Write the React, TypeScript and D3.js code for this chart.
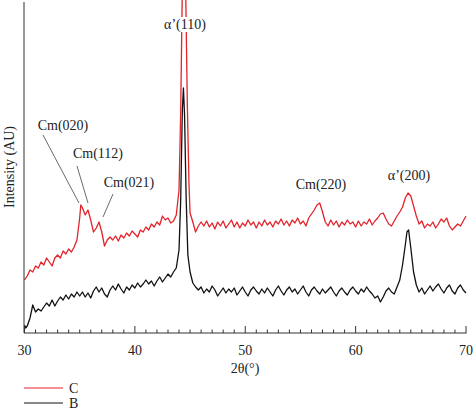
import React from "react";
import * as d3 from "d3";

const xTicks = [30, 40, 50, 60, 70];
const xLabel = "2θ(°)";
const yLabel = "Intensity (AU)";

const cAngles = [30,30.25,30.5,30.75,31,31.25,31.5,31.75,32,32.25,32.5,32.75,33,33.25,33.5,33.75,34,34.25,34.5,34.75,35,35.1,35.25,35.5,35.75,36,36.25,36.5,36.75,37,37.25,37.5,37.75,38,38.25,38.5,38.75,39,39.25,39.5,39.75,40,40.25,40.5,40.75,41,41.25,41.5,41.75,42,42.25,42.5,42.75,43,43.25,43.5,43.75,44,44.15,44.28,44.4,44.5,44.62,44.75,44.9,45,45.25,45.5,45.75,46,46.25,46.5,46.75,47,47.25,47.5,47.75,48,48.25,48.5,48.75,49,49.25,49.5,49.75,50,50.25,50.5,50.75,51,51.25,51.5,51.75,52,52.25,52.5,52.75,53,53.25,53.5,53.75,54,54.25,54.5,54.75,55,55.25,55.5,55.75,56,56.25,56.5,56.75,57,57.25,57.5,57.75,58,58.25,58.5,58.75,59,59.25,59.5,59.75,60,60.25,60.5,60.75,61,61.25,61.5,61.75,62,62.25,62.5,62.75,63,63.25,63.5,63.75,64,64.25,64.5,64.75,65,65.25,65.5,65.75,66,66.25,66.5,66.75,67,67.25,67.5,67.75,68,68.25,68.5,68.75,69,69.25,69.5,69.75,70];
const cValues = [53,57,63,61,67,65,71,68,75,71,67,75,78,75,82,79,84,81,86,93,115,128,125,118,123,113,101,105,111,101,87,93,96,93,97,92,98,95,100,97,102,99,96,103,101,106,103,109,106,111,108,117,113,115,110,112,118,143,220,330,400,400,330,230,150,120,111,101,107,111,107,112,106,110,104,111,107,112,105,109,113,106,111,105,110,107,113,108,111,105,111,107,113,108,111,106,112,109,114,108,112,107,113,110,115,109,112,107,115,119,123,128,130,121,111,107,113,108,112,106,111,108,113,109,111,106,112,107,111,109,114,108,112,115,119,120,114,109,107,112,117,121,126,135,140,137,127,117,109,112,105,109,107,111,105,109,114,111,115,107,103,106,109,107,112,117];

const bAngles = [30,30.1,30.25,30.5,30.75,31,31.25,31.5,31.75,32,32.25,32.5,32.75,33,33.25,33.5,33.75,34,34.25,34.5,34.75,35,35.25,35.5,35.75,36,36.25,36.5,36.75,37,37.25,37.5,37.75,38,38.25,38.5,38.75,39,39.25,39.5,39.75,40,40.25,40.5,40.75,41,41.25,41.5,41.75,42,42.25,42.5,42.75,43,43.25,43.5,43.75,44,44.15,44.3,44.4,44.5,44.65,44.8,45,45.25,45.5,45.75,46,46.25,46.5,46.75,47,47.25,47.5,47.75,48,48.25,48.5,48.75,49,49.25,49.5,49.75,50,50.25,50.5,50.75,51,51.25,51.5,51.75,52,52.25,52.5,52.75,53,53.25,53.5,53.75,54,54.25,54.5,54.75,55,55.25,55.5,55.75,56,56.25,56.5,56.75,57,57.25,57.5,57.75,58,58.25,58.5,58.75,59,59.25,59.5,59.75,60,60.25,60.5,60.75,61,61.25,61.5,61.75,62,62.25,62.5,62.75,63,63.25,63.5,63.75,64,64.25,64.5,64.65,64.8,65,65.25,65.5,65.75,66,66.25,66.5,66.75,67,67.25,67.5,67.75,68,68.25,68.5,68.75,69,69.25,69.5,69.75,70];
const bValues = [8,5,7,15,28,21,24,22,26,30,27,33,27,32,36,33,38,34,39,36,41,37,41,36,40,35,42,46,41,45,39,36,43,47,43,49,44,40,46,43,48,45,50,46,49,53,49,52,47,52,56,51,55,59,56,61,65,83,133,223,245,218,133,78,61,50,46,43,46,40,44,41,47,43,37,41,45,40,44,41,45,38,42,46,41,37,43,46,42,39,44,40,45,41,37,43,47,42,38,43,46,41,44,39,43,47,41,37,43,46,42,39,44,40,43,46,41,37,42,45,41,38,43,46,42,39,44,41,46,42,39,35,37,31,36,42,45,41,39,46,53,68,88,101,103,85,61,48,41,45,39,43,47,42,46,49,44,40,45,48,42,39,45,48,43,40];

const peakLabels = [
  { text: "α’(110)", x: 185, y: 29, box: true },
  { text: "Cm(020)", x: 63, y: 130 },
  { text: "Cm(112)", x: 98, y: 158 },
  { text: "Cm(021)", x: 129, y: 187 },
  { text: "Cm(220)", x: 321, y: 189 },
  { text: "α’(200)", x: 409, y: 180 },
];
const leaders = [
  [43, 135, 79, 203],
  [77, 166, 88, 203],
  [113, 194, 103, 217],
];
const legendItems = [
  { name: "C", color: "#e3222b" },
  { name: "B", color: "#111111" },
];

export default function App() {
  const x = d3.scaleLinear().domain([30, 70]).range([24.5, 466]);
  const y = d3.scaleLinear().domain([0, 330]).range([333, 3]);
  const line = d3.line<[number, number]>().x((d) => x(d[0])).y((d) => y(d[1]));
  const cData = cAngles.map((a, i) => [a, cValues[i]] as [number, number]);
  const bData = bAngles.map((a, i) => [a, bValues[i]] as [number, number]);
  const minor = d3.range(30, 70.01, 1);
  const font = "'Liberation Serif', 'Times New Roman', serif";
  return (
    <svg width={474} height={413} style={{ position: "absolute", left: 0, top: 0, background: "#fff" }} fontFamily={font}>
      <defs>
        <clipPath id="plot">
          <rect x={24} y={0} width={450} height={333} />
        </clipPath>
      </defs>
      <g clipPath="url(#plot)" fill="none" strokeWidth={1.3} strokeLinejoin="round">
        <path d={line(bData) || ""} stroke={legendItems[1].color} />
        <path d={line(cData) || ""} stroke={legendItems[0].color} />
      </g>
      <line x1={24} x2={24} y1={2} y2={333} stroke="#333" strokeWidth={1} />
      <line x1={24} x2={466.5} y1={333} y2={333} stroke="#333" strokeWidth={1} />
      {minor.map((t) => (
        <line key={t} x1={x(t)} x2={x(t)} y1={333} y2={t % 10 === 0 ? 326 : 329.5} stroke="#333" strokeWidth={1} />
      ))}
      {xTicks.map((t) => (
        <text key={t} x={x(t)} y={355} textAnchor="middle" fontSize={14} fill="#222">{t}</text>
      ))}
      <text x={245} y={373} textAnchor="middle" fontSize={14} fill="#222">{xLabel}</text>
      <text transform="translate(14,167) rotate(-90)" textAnchor="middle" fontSize={14} fill="#222">{yLabel}</text>
      {leaders.map((l, i) => (
        <line key={i} x1={l[0]} y1={l[1]} x2={l[2]} y2={l[3]} stroke="#444" strokeWidth={0.8} />
      ))}
      {peakLabels.map((p) => (
        <g key={p.text}>
          {p.box && <rect x={p.x - 24} y={p.y - 12} width={48} height={15} fill="#fff" />}
          <text x={p.x} y={p.y} textAnchor="middle" fontSize={14} fill="#222">{p.text}</text>
        </g>
      ))}
      {legendItems.map((it, i) => (
        <g key={it.name}>
          <line x1={24} x2={63} y1={388 + i * 15} y2={388 + i * 15} stroke={it.color} strokeWidth={1} />
          <text x={69} y={393 + i * 15} fontSize={14} fill="#222">{it.name}</text>
        </g>
      ))}
    </svg>
  );
}
